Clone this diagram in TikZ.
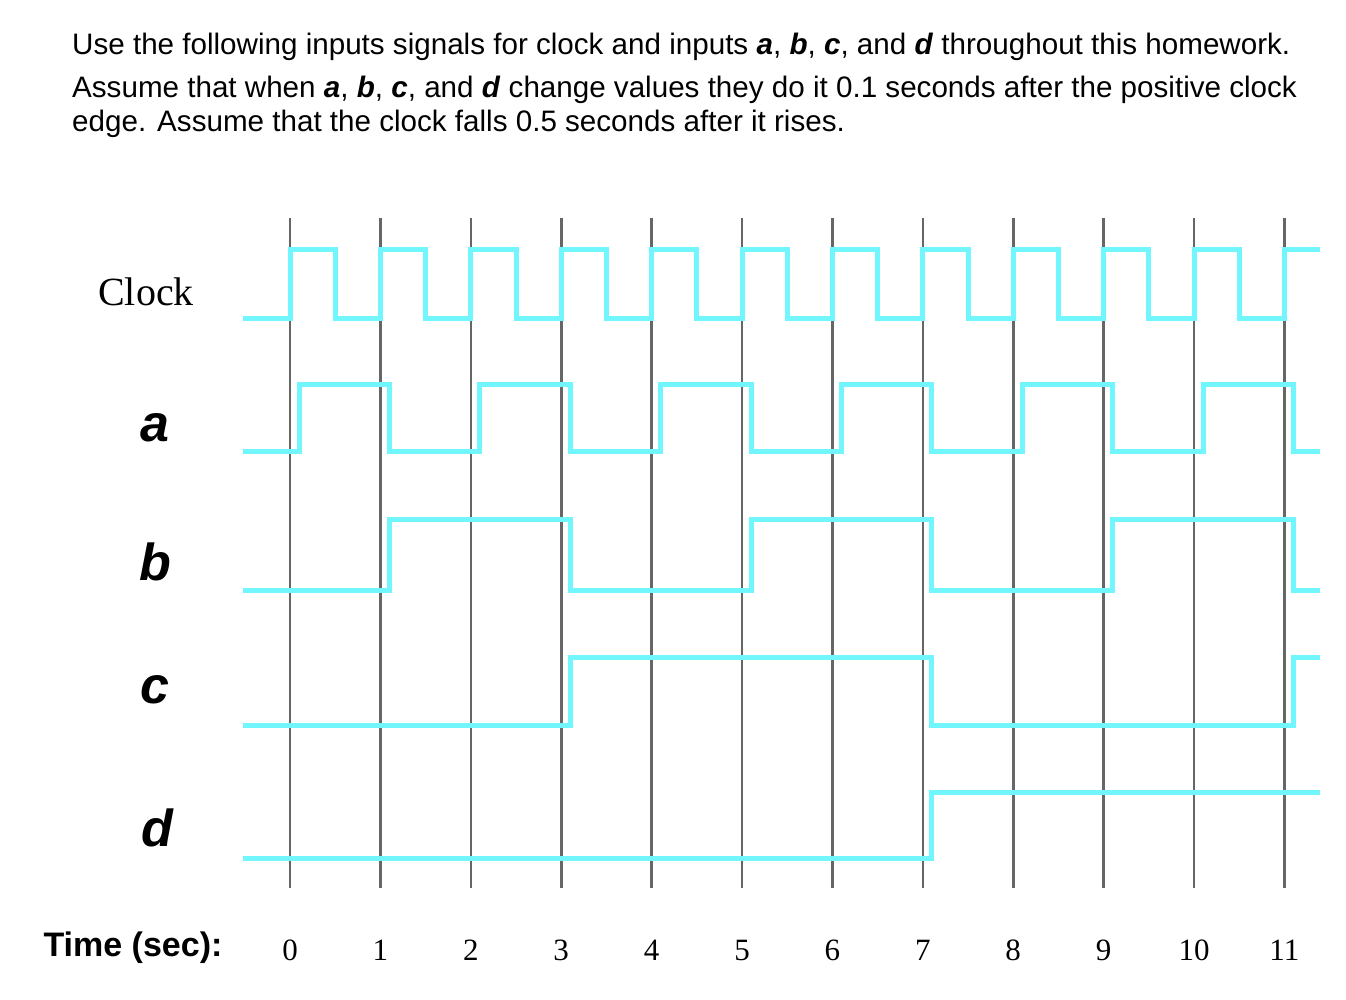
\documentclass[tikz,border=0pt]{standalone}
\usepackage{fontspec}
\setmainfont{Liberation Sans}
\newfontfamily\serifnum{Liberation Serif}
\definecolor{sig}{RGB}{112,246,252}
\begin{document}
\begin{tikzpicture}[x=1pt,y=-1pt,
  hdr/.style={anchor=west,inner sep=0,font=\fontsize{29.6}{34}\selectfont},
  siglab/.style={inner sep=0,font=\fontsize{52}{58}\selectfont\bfseries\itshape},
  num/.style={inner sep=0,font=\fontsize{31}{36}\serifnum},
  grid/.style={draw=gray!80!black,line width=2.6pt},
  wave/.style={draw=sig,line width=5pt,line join=miter}]
\useasboundingbox (0,0) rectangle (1346,1000);
\node[hdr] (l1) at (72,47) {Use the following inputs signals for clock and inputs \textbf{\textit{a}}, \textbf{\textit{b}}, \textbf{\textit{c}}, and \textbf{\textit{d}} throughout this homework.};
\node[hdr] (l2) at (72,90) {Assume that when \textbf{\textit{a}}, \textbf{\textit{b}}, \textbf{\textit{c}}, and \textbf{\textit{d}} change values they do it 0.1 seconds after the positive clock};
\node[hdr] (l3) at (72,124) {edge. Assume that the clock falls 0.5 seconds after it rises.};
\node[inner sep=0,font=\fontsize{40}{46}\serifnum] (clk) at (146,292) {Clock};
\node[siglab] (la) at (155,428) {a};
\node[siglab] (lb) at (155,562) {b};
\node[siglab] (lc) at (155,690) {c};
\node[siglab] (ld) at (157,828) {d};
\node[inner sep=0,font=\fontsize{34}{40}\selectfont\bfseries] (tl) at (133,948) {Time (sec):};
\begin{scope}[xshift=290pt,x=90.4pt]
\foreach \i in {0,...,11}{
  \draw[grid] (\i,218) -- (\i,888);
  \node[num] (n\i) at (\i,950) {\i};
}
\draw[wave] (-0.52,318) foreach \i in {0,...,10}{ -- (\i,318) -- (\i,250) -- (\i+0.5,250) -- (\i+0.5,318)} -- (11,318) -- (11,250) -- (11.39,250);
\draw[wave] (-0.52,451) foreach \i in {0,2,...,10}{ -- (\i+0.1,451) -- (\i+0.1,384) -- (\i+1.1,384) -- (\i+1.1,451)} -- (11.39,451);
\draw[wave] (-0.52,590) -- (1.1,590)--(1.1,519)--(3.1,519)--(3.1,590)--(5.1,590)--(5.1,519)--(7.1,519)--(7.1,590)--(9.1,590)--(9.1,519)--(11.1,519)--(11.1,590)--(11.39,590);
\draw[wave] (-0.52,725)--(3.1,725)--(3.1,657)--(7.1,657)--(7.1,725)--(11.1,725)--(11.1,657)--(11.39,657);
\draw[wave] (-0.52,858)--(7.1,858)--(7.1,792)--(11.39,792);
\end{scope}
\end{tikzpicture}
\end{document}
